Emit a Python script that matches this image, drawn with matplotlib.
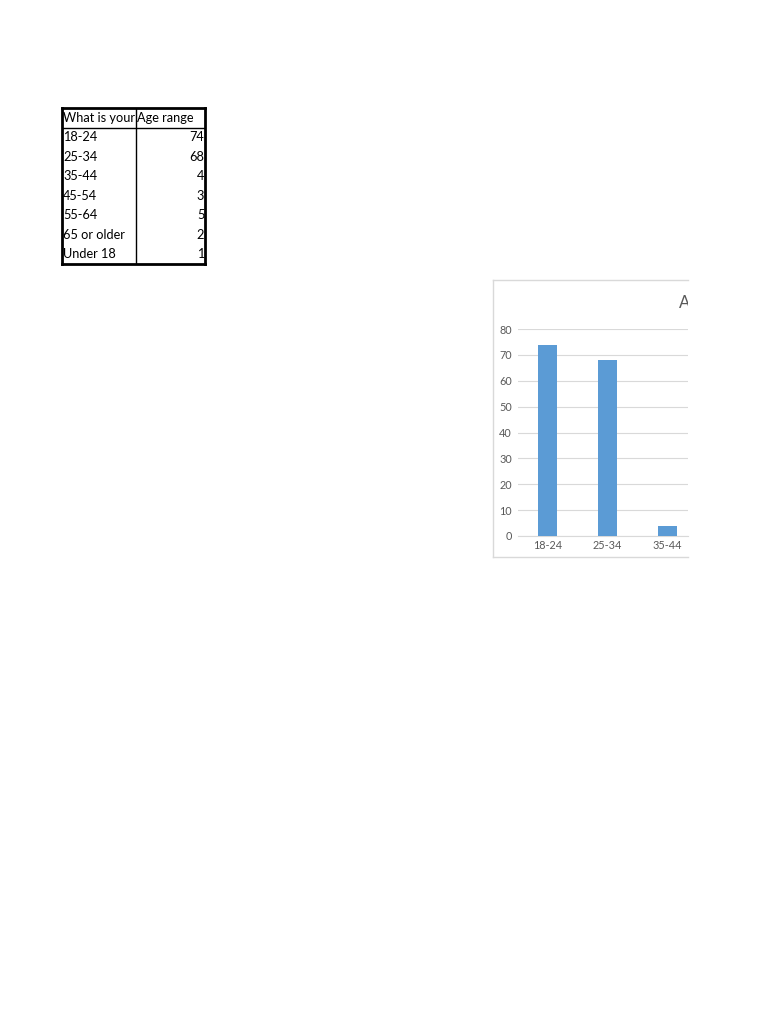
import matplotlib
matplotlib.use('Agg')
import matplotlib.pyplot as plt

plt.rcParams['font.family'] = ['Lato', 'DejaVu Sans']

# data of the sheet
header = ['What is your', 'Age range']
ages = ['18-24', '25-34', '35-44', '45-54', '55-64', '65 or older', 'Under 18']
counts = [74, 68, 4, 3, 5, 2, 1]
y_ticks = [0, 10, 20, 30, 40, 50, 60, 70, 80]
title = 'Age range'

W, H = 768, 1024
fig = plt.figure(figsize=(W / 100, H / 100), dpi=100)


def px_axes(x0, y0, x1, y1):
    # pixel box (top-left origin) -> figure axes
    return fig.add_axes([x0 / W, 1 - y1 / H, (x1 - x0) / W, (y1 - y0) / H])


# ---- table ----
tab = px_axes(62, 108, 205, 264)
n_rows = len(ages) + 1
split = 74 / 143
tab.set_xlim(0, 1)
tab.set_ylim(n_rows, 0)
tab.set_xticks([])
tab.set_yticks([])
for s in tab.spines.values():
    s.set_linewidth(2)
    s.set_color('black')
tab.axhline(1, color='black', lw=1)
tab.axvline(split, color='black', lw=1)

tab.text(0.008, 0.5, header[0], ha='left', va='center', fontsize=9.2)
tab.text(split + 0.008, 0.5, header[1], ha='left', va='center', fontsize=9.2)
for i, (a, c) in enumerate(zip(ages, counts)):
    tab.text(0.008, i + 1.5, a, ha='left', va='center', fontsize=9.2)
    tab.text(0.995, i + 1.5, str(c), ha='right', va='center', fontsize=9.2)

# ---- chart frame (clipped at the page edge) ----
frame = px_axes(493, 280, 688, 557)
frame.set_xticks([])
frame.set_yticks([])
for k, s in frame.spines.items():
    s.set_color('#d9d9d9')
    s.set_linewidth(1)
frame.spines['right'].set_visible(False)
frame.text((679 - 493) / 195, 1 - (303 - 280) / 277, title, transform=frame.transAxes,
           ha='left', va='center', fontsize=12, color='#595959', clip_on=True)

# ---- bar chart ----
ax = px_axes(517.5, 329, 688, 536)
x = list(range(len(ages)))
ax.bar(x, counts, width=0.317, color='#5B9BD5', zorder=3)
ax.set_yticks(y_ticks)
ax.set_xticks(x)
ax.set_xticklabels(ages)
ax.set_xlim(-0.5, (688 - 517.5) / 60 - 0.5)
ax.set_ylim(0, 80)
ax.grid(axis='y', color='#d9d9d9', lw=0.8, zorder=0)
for k in ['top', 'right', 'left']:
    ax.spines[k].set_visible(False)
ax.spines['bottom'].set_color('#d9d9d9')
ax.tick_params(length=0, labelsize=7.8, colors='#595959')
ax.tick_params(axis='y', pad=4)
ax.tick_params(axis='x', pad=3)
ax.patch.set_alpha(0)

fig.savefig('out.png', dpi=100)
